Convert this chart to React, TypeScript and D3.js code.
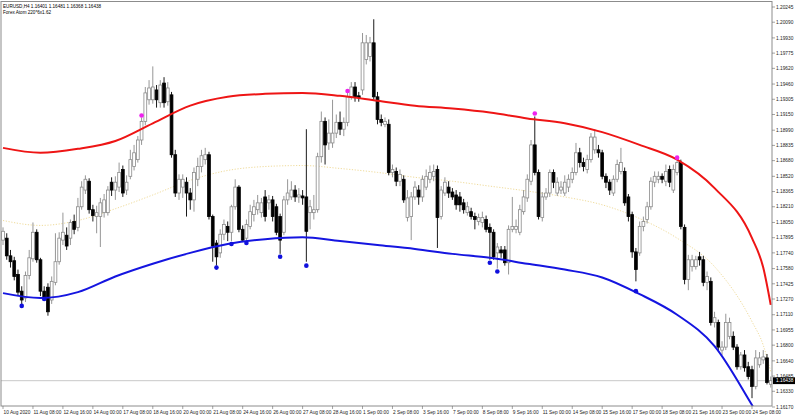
import React from 'react';
import * as d3 from 'd3';

// EURUSD H4 candles (bar 0 = 10 Aug 2020 00:00)
const OPEN = [
  1.1787, 1.1789, 1.1771, 1.1766, 1.1752, 1.1735, 1.1728, 1.1751, 1.1768, 1.1795,
  1.1767, 1.1735, 1.1739, 1.1726, 1.1744, 1.1765, 1.1787, 1.1792, 1.1789, 1.1806,
  1.1800, 1.1821, 1.1838, 1.1847, 1.1818, 1.1811, 1.1811, 1.1815, 1.1815, 1.1846,
  1.1838, 1.1841, 1.1859, 1.1838, 1.1852, 1.1862, 1.1869, 1.1889, 1.1908, 1.1930,
  1.1930, 1.1940, 1.1927, 1.1947, 1.1928, 1.1935, 1.1874, 1.1835, 1.1841, 1.1846,
  1.1835, 1.1828, 1.1849, 1.1862, 1.1869, 1.1874, 1.1811, 1.1784, 1.1774, 1.1793,
  1.1801, 1.1795, 1.1821, 1.1841, 1.1798, 1.1789, 1.1801, 1.1813, 1.1818, 1.1815,
  1.1831, 1.1825, 1.1828, 1.1821, 1.1811, 1.1795, 1.1828, 1.1831, 1.1838, 1.1831,
  1.1832, 1.1831, 1.1815, 1.1815, 1.1818, 1.1872, 1.1908, 1.1886, 1.1886, 1.1896,
  1.1907, 1.1900, 1.1907, 1.1933, 1.1943, 1.1934, 1.1940, 1.1971, 1.1974, 1.1988,
  1.1933, 1.1910, 1.1905, 1.1905, 1.1856, 1.1857, 1.1847, 1.1849, 1.1810, 1.1811,
  1.1831, 1.1838, 1.1831, 1.1841, 1.1849, 1.1852, 1.1859, 1.1811, 1.1835, 1.1841,
  1.1836, 1.1833, 1.1831, 1.1825, 1.1815, 1.1816, 1.1811, 1.1806, 1.1805, 1.1808,
  1.1800, 1.1795, 1.1774, 1.1777, 1.1777, 1.1764, 1.1798, 1.1798, 1.1795, 1.1816,
  1.1830, 1.1847, 1.1884, 1.1856, 1.1810, 1.1831, 1.1835, 1.1856, 1.1835, 1.1838,
  1.1835, 1.1841, 1.1849, 1.1856, 1.1876, 1.1866, 1.1859, 1.1869, 1.1879, 1.1879,
  1.1876, 1.1852, 1.1846, 1.1835, 1.1849, 1.1857, 1.1857, 1.1831, 1.1813, 1.1775,
  1.1774, 1.1801, 1.1808, 1.1821, 1.1846, 1.1849, 1.1852, 1.1847, 1.1859, 1.1838,
  1.1856, 1.1866, 1.1800, 1.1747, 1.1760, 1.1760, 1.1770, 1.1767, 1.1744, 1.1745,
  1.1703, 1.1703, 1.1675, 1.1678, 1.1689, 1.1689, 1.1678, 1.1658, 1.1670, 1.1658,
  1.1655, 1.1638, 1.1660, 1.1665, 1.1667, 1.16401,
];
const HIGH = [
  1.1800, 1.1794, 1.1777, 1.1770, 1.1757, 1.1740, 1.1755, 1.1777, 1.1805, 1.1798,
  1.1769, 1.1740, 1.1743, 1.1750, 1.1794, 1.1795, 1.1815, 1.1800, 1.1808, 1.1813,
  1.1830, 1.1847, 1.1853, 1.1850, 1.1823, 1.1822, 1.1830, 1.1834, 1.1842, 1.1851,
  1.1852, 1.1866, 1.1863, 1.1853, 1.1879, 1.1884, 1.1893, 1.1912, 1.1943, 1.1950,
  1.1964, 1.1945, 1.1950, 1.1953, 1.1948, 1.1938, 1.1879, 1.1854, 1.1854, 1.1851,
  1.1840, 1.1861, 1.1871, 1.1879, 1.1881, 1.1877, 1.1813, 1.1787, 1.1798, 1.1808,
  1.1806, 1.1823, 1.1849, 1.1843, 1.1802, 1.1808, 1.1823, 1.1828, 1.1833, 1.1830,
  1.1838, 1.1833, 1.1832, 1.1824, 1.1814, 1.1832, 1.1849, 1.1847, 1.1843, 1.1840,
  1.1838, 1.1900, 1.1828, 1.1833, 1.1876, 1.1918, 1.1912, 1.1910, 1.1930, 1.1915,
  1.1918, 1.1912, 1.1938, 1.1948, 1.1948, 1.1938, 1.1998, 1.1996, 1.1994, 1.2012,
  1.1938, 1.1915, 1.1912, 1.1910, 1.1864, 1.1861, 1.1859, 1.1853, 1.1838, 1.1836,
  1.1847, 1.1843, 1.1853, 1.1859, 1.1863, 1.1864, 1.1863, 1.1842, 1.1851, 1.1847,
  1.1840, 1.1838, 1.1836, 1.1829, 1.1826, 1.1820, 1.1815, 1.1814, 1.1816, 1.1812,
  1.1804, 1.1798, 1.1784, 1.1781, 1.1781, 1.1802, 1.1831, 1.1808, 1.1823, 1.1838,
  1.1854, 1.1889, 1.1913, 1.1859, 1.1836, 1.1840, 1.1859, 1.1859, 1.1851, 1.1847,
  1.1853, 1.1854, 1.1861, 1.1886, 1.1881, 1.1871, 1.1874, 1.1896, 1.1900, 1.1884,
  1.1879, 1.1855, 1.1849, 1.1853, 1.1869, 1.1881, 1.1861, 1.1834, 1.1816, 1.1779,
  1.1806, 1.1811, 1.1826, 1.1851, 1.1857, 1.1857, 1.1855, 1.1864, 1.1863, 1.1864,
  1.1868, 1.1869, 1.1803, 1.1772, 1.1772, 1.1771, 1.1775, 1.1771, 1.1755, 1.1749,
  1.1714, 1.1706, 1.1684, 1.1712, 1.1708, 1.1694, 1.1681, 1.1673, 1.1675, 1.1663,
  1.1659, 1.1675, 1.1673, 1.1675, 1.1671, 1.16481,
];
const LOW = [
  1.1782, 1.1767, 1.1759, 1.1746, 1.1730, 1.1721, 1.1724, 1.1747, 1.1765, 1.1764,
  1.1730, 1.1726, 1.1710, 1.1722, 1.1741, 1.1762, 1.1782, 1.1777, 1.1782, 1.1793,
  1.1796, 1.1818, 1.1834, 1.1814, 1.1806, 1.1794, 1.1780, 1.1810, 1.1812, 1.1832,
  1.1828, 1.1836, 1.1831, 1.1833, 1.1849, 1.1858, 1.1866, 1.1884, 1.1904, 1.1925,
  1.1926, 1.1922, 1.1922, 1.1922, 1.1924, 1.1871, 1.1831, 1.1828, 1.1830, 1.1811,
  1.1818, 1.1816, 1.1842, 1.1856, 1.1864, 1.1808, 1.1765, 1.1761, 1.1769, 1.1787,
  1.1786, 1.1786, 1.1818, 1.1795, 1.1785, 1.1786, 1.1798, 1.1806, 1.1813, 1.1810,
  1.1806, 1.1818, 1.1806, 1.1792, 1.1773, 1.1792, 1.1823, 1.1828, 1.1826, 1.1825,
  1.1823, 1.1765, 1.1798, 1.1808, 1.1815, 1.1866, 1.1864, 1.1879, 1.1881, 1.1891,
  1.1894, 1.1893, 1.1903, 1.1930, 1.1928, 1.1928, 1.1935, 1.1966, 1.1969, 1.1930,
  1.1905, 1.1903, 1.1902, 1.1853, 1.1851, 1.1842, 1.1842, 1.1825, 1.1806, 1.1787,
  1.1828, 1.1823, 1.1826, 1.1838, 1.1845, 1.1847, 1.1779, 1.1808, 1.1832, 1.1830,
  1.1828, 1.1818, 1.1816, 1.1814, 1.1812, 1.1808, 1.1798, 1.1802, 1.1800, 1.1795,
  1.1767, 1.1767, 1.1758, 1.1769, 1.1761, 1.1752, 1.1795, 1.1794, 1.1792, 1.1813,
  1.1826, 1.1843, 1.1853, 1.1808, 1.1806, 1.1828, 1.1831, 1.1840, 1.1832, 1.1834,
  1.1832, 1.1836, 1.1845, 1.1853, 1.1861, 1.1857, 1.1855, 1.1866, 1.1875, 1.1871,
  1.1849, 1.1840, 1.1833, 1.1832, 1.1846, 1.1854, 1.1822, 1.1806, 1.1769, 1.1745,
  1.1771, 1.1796, 1.1804, 1.1818, 1.1841, 1.1845, 1.1845, 1.1842, 1.1841, 1.1835,
  1.1853, 1.1798, 1.1742, 1.1736, 1.1755, 1.1757, 1.1761, 1.1740, 1.1736, 1.1700,
  1.1698, 1.1675, 1.1670, 1.1675, 1.1686, 1.1675, 1.1655, 1.1655, 1.1653, 1.1645,
  1.1626, 1.1635, 1.1657, 1.1661, 1.1640, 1.16368,
];
const CLOSE = [
  1.1796, 1.1771, 1.1765, 1.1750, 1.1734, 1.1726, 1.1751, 1.1769, 1.1795, 1.1767,
  1.1735, 1.1729, 1.1714, 1.1745, 1.1765, 1.1789, 1.1795, 1.1781, 1.1805, 1.1798,
  1.1821, 1.1841, 1.1849, 1.1818, 1.1812, 1.1815, 1.1825, 1.1828, 1.1838, 1.1838,
  1.1846, 1.1856, 1.1835, 1.1846, 1.1869, 1.1876, 1.1889, 1.1908, 1.1937, 1.1942,
  1.1943, 1.1930, 1.1945, 1.1927, 1.1942, 1.1874, 1.1835, 1.1849, 1.1849, 1.1835,
  1.1828, 1.1856, 1.1862, 1.1873, 1.1874, 1.1811, 1.1781, 1.1770, 1.1793, 1.1803,
  1.1795, 1.1821, 1.1841, 1.1798, 1.1787, 1.1803, 1.1816, 1.1821, 1.1825, 1.1825,
  1.1811, 1.1828, 1.1811, 1.1795, 1.1787, 1.1828, 1.1835, 1.1838, 1.1831, 1.1833,
  1.1830, 1.1796, 1.1821, 1.1818, 1.1872, 1.1908, 1.1884, 1.1896, 1.1896, 1.1907,
  1.1900, 1.1907, 1.1933, 1.1943, 1.1933, 1.1932, 1.1988, 1.1988, 1.1988, 1.1933,
  1.1910, 1.1907, 1.1908, 1.1856, 1.1859, 1.1847, 1.1854, 1.1828, 1.1830, 1.1831,
  1.1841, 1.1831, 1.1849, 1.1852, 1.1856, 1.1857, 1.1810, 1.1838, 1.1846, 1.1835,
  1.1831, 1.1823, 1.1823, 1.1818, 1.1821, 1.1811, 1.1808, 1.1810, 1.1810, 1.1798,
  1.1795, 1.1770, 1.1780, 1.1774, 1.1764, 1.1798, 1.1801, 1.1801, 1.1818, 1.1831,
  1.1849, 1.1884, 1.1856, 1.1811, 1.1831, 1.1835, 1.1856, 1.1846, 1.1846, 1.1841,
  1.1846, 1.1849, 1.1856, 1.1876, 1.1866, 1.1862, 1.1869, 1.1892, 1.1892, 1.1876,
  1.1852, 1.1846, 1.1838, 1.1849, 1.1864, 1.1866, 1.1825, 1.1811, 1.1775, 1.1757,
  1.1801, 1.1806, 1.1821, 1.1847, 1.1852, 1.1852, 1.1849, 1.1857, 1.1846, 1.1859,
  1.1866, 1.1801, 1.1747, 1.1767, 1.1767, 1.1767, 1.1767, 1.1744, 1.1750, 1.1703,
  1.1708, 1.1678, 1.1678, 1.1703, 1.1703, 1.1678, 1.1658, 1.1670, 1.1657, 1.1648,
  1.1638, 1.1667, 1.1667, 1.1668, 1.1642, 1.16438,
];

// Envelope indicator (sampled at bar positions)
const BAND_BARS = [0, 10, 20, 30, 40, 50, 60, 70, 80, 90, 100, 110, 120, 130, 140, 150, 160, 170, 180, 190, 200, 203, 205];
const UPPER_BAND = [1.1881, 1.1876, 1.1880, 1.1888, 1.1906, 1.1924, 1.1933, 1.1936, 1.1937, 1.1934, 1.1929, 1.1924, 1.1921, 1.1917, 1.1911, 1.1906, 1.1897, 1.1884, 1.1869, 1.1840, 1.1789, 1.1759, 1.1721];
const LOWER_BAND = [1.1733, 1.1728, 1.1734, 1.1750, 1.1763, 1.1774, 1.1783, 1.1788, 1.1790, 1.1786, 1.1782, 1.1778, 1.1773, 1.1769, 1.1763, 1.1757, 1.1749, 1.1732, 1.1711, 1.1679, 1.1619, 1.1600, 1.1579];
const MIDDLE_BAND = [1.1807, 1.1802, 1.1807, 1.1819, 1.1833, 1.1848, 1.1858, 1.1862, 1.1863, 1.1860, 1.1856, 1.1851, 1.1847, 1.1842, 1.1837, 1.1831, 1.1823, 1.1809, 1.1789, 1.1760, 1.1704, 1.1680, 1.1653];

// Signal dots
const SELL_BARS = [37, 92, 142, 180];
const SELL_PRICES = [1.1914, 1.1939, 1.1916, 1.1871];
const BUY_BARS = [5, 11, 57, 61, 65, 74, 81, 130, 132, 169];
const BUY_PRICES = [1.1720, 1.1727, 1.1759, 1.1783, 1.1784, 1.1770, 1.1761, 1.1764, 1.1755, 1.1735];

const PRICE_TICKS = [
  1.20245, 1.20090, 1.19930, 1.19775, 1.19620, 1.19460, 1.19305, 1.19150, 1.18990,
  1.18835, 1.18680, 1.18520, 1.18365, 1.18210, 1.18050, 1.17895, 1.17740, 1.17580,
  1.17425, 1.17270, 1.17110, 1.16955, 1.16800, 1.16640, 1.16485, 1.16330, 1.16170,
];
const DATE_LABELS = [
  '10 Aug 2020', '11 Aug 08:00', '12 Aug 16:00', '14 Aug 00:00', '17 Aug 08:00', '18 Aug 16:00',
  '20 Aug 00:00', '21 Aug 08:00', '24 Aug 16:00', '26 Aug 00:00', '27 Aug 08:00', '28 Aug 16:00',
  '1 Sep 00:00', '2 Sep 08:00', '3 Sep 16:00', '7 Sep 00:00', '8 Sep 08:00', '9 Sep 16:00',
  '11 Sep 00:00', '14 Sep 08:00', '15 Sep 16:00', '17 Sep 00:00', '18 Sep 08:00', '21 Sep 16:00',
  '23 Sep 00:00', '24 Sep 08:00',
];
const DATE_STEP = 8;
const HEADER_1 = 'EURUSD,H4  1.16401 1.16481 1.16368 1.16438';
const HEADER_2 = 'Forex Atom 220*6x1.62';

const W = 795;
const H = 420;
const PL = 1;
const PR = 772;
const PT = 2;
const PB = 406;
const FONT = 'Liberation Sans, Arial, sans-serif';

export default function App() {
  const x = d3.scaleLinear().domain([0, 200]).range([3, 752]);
  const y = d3.scaleLinear().domain([1.1617, 1.20245]).range([407, 7]);

  const bandPts = (vals: number[]) => BAND_BARS.map((b, i) => [x(b), y(vals[i])] as [number, number]);
  const line = d3.line().curve(d3.curveMonotoneX);

  const lastClose = CLOSE[CLOSE.length - 1];
  const bw = 2.8;

  return (
    <svg width={W} height={H} style={{ position: 'absolute', left: 0, top: 0, background: '#fff' }} fontFamily={FONT}>
      <defs>
        <clipPath id="plot">
          <rect x={PL} y={PT} width={PR - PL} height={PB - PT} />
        </clipPath>
      </defs>
      <rect x={0} y={0} width={W} height={H} fill="#fff" />
      <g clipPath="url(#plot)">
        <line x1={PL} x2={PR} y1={y(lastClose)} y2={y(lastClose)} stroke="#c8c8c8" strokeWidth={1} />
        <path d={line(bandPts(MIDDLE_BAND)) || ''} fill="none" stroke="#f0dc9c" strokeWidth={1} strokeDasharray="1.2,1.6" />
        {OPEN.map((o, i) => {
          const c = CLOSE[i];
          const bull = c >= o;
          const xc = x(i);
          const col = bull ? '#8a8a8a' : '#000';
          const top = y(Math.max(o, c));
          const bot = y(Math.min(o, c));
          return (
            <g key={i}>
              <line x1={xc} x2={xc} y1={y(HIGH[i])} y2={y(LOW[i])} stroke={col} strokeWidth={0.9} />
              <rect x={xc - bw / 2} y={top} width={bw} height={Math.max(0.8, bot - top)}
                fill={bull ? '#fff' : '#000'} stroke={col} strokeWidth={0.8} />
            </g>
          );
        })}
        <path d={line(bandPts(UPPER_BAND)) || ''} fill="none" stroke="#ee1515" strokeWidth={2} />
        <path d={line(bandPts(LOWER_BAND)) || ''} fill="none" stroke="#1515e0" strokeWidth={2} />
        {SELL_BARS.map((b, i) => (
          <circle key={'s' + i} cx={x(b)} cy={y(SELL_PRICES[i])} r={2.3} fill="#ee22ee" />
        ))}
        {BUY_BARS.map((b, i) => (
          <circle key={'b' + i} cx={x(b)} cy={y(BUY_PRICES[i])} r={2.3} fill="#1010dd" />
        ))}
      </g>
      <rect x={PL} y={PT - 0.5} width={PR - PL} height={PB - PT + 0.5} fill="none" stroke="#8c8c8c" strokeWidth={1} />
      <text x={3} y={7.5} fontSize={4.6} fill="#000">{HEADER_1}</text>
      <text x={3} y={13.5} fontSize={4.6} fill="#000">{HEADER_2}</text>
      {PRICE_TICKS.map((p) => (
        <g key={p}>
          <line x1={PR} x2={PR + 3} y1={y(p)} y2={y(p)} stroke="#666" strokeWidth={0.6} />
          <text x={PR + 4} y={y(p) + 1.7} fontSize={4.8} fill="#222">{p.toFixed(5)}</text>
        </g>
      ))}
      <rect x={PR + 1} y={y(lastClose) - 3.4} width={22} height={6.8} fill="#000" />
      <text x={PR + 4} y={y(lastClose) + 1.7} fontSize={4.8} fill="#fff">{lastClose.toFixed(5)}</text>
      {DATE_LABELS.map((d, i) => {
        const xi = x(i * DATE_STEP);
        return (
          <g key={d}>
            <line x1={xi} x2={xi} y1={PB} y2={PB + 3} stroke="#666" strokeWidth={0.6} />
            <text x={xi + 0.5} y={PB + 8} fontSize={4.8} fill="#222">{d}</text>
          </g>
        );
      })}
    </svg>
  );
}
